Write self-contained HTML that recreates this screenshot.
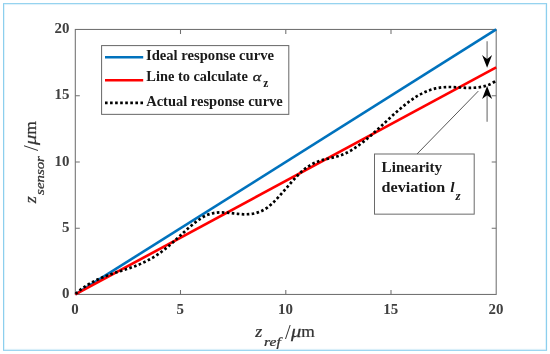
<!DOCTYPE html>
<html><head><meta charset="utf-8"><title>Linearity deviation</title>
<style>
html,body{margin:0;padding:0;background:#fff;}
svg{display:block;font-family:"Liberation Serif","DejaVu Serif",serif;}
.tk text{font-size:14.9px;font-weight:bold;fill:#404040;}
.lg text,.an text{font-weight:bold;fill:#1a1a1a;}
</style></head><body>
<svg width="550" height="354" viewBox="0 0 550 354">
<rect x="0" y="0" width="550" height="354" fill="#fff"/>
<rect x="3.65" y="3.75" width="542.8" height="346.45" fill="none" stroke="#8ccfee" stroke-width="1.3"/>
<rect x="4.6" y="4.7" width="540.9" height="344.5" fill="none" stroke="#e4f3fb" stroke-width="0.8"/>
<!-- axes -->
<g fill="none" stroke="#707070" stroke-width="1.05">
<rect x="75.3" y="29.45" width="420.9" height="265.0"/>
<path d="M180.5 294.45 v-4.5 M180.5 29.45 v4.5"/><path d="M285.8 294.45 v-4.5 M285.8 29.45 v4.5"/><path d="M391.0 294.45 v-4.5 M391.0 29.45 v4.5"/><path d="M75.3 228.2 h4.5 M496.2 228.2 h-4.5"/><path d="M75.3 161.9 h4.5 M496.2 161.9 h-4.5"/><path d="M75.3 95.7 h4.5 M496.2 95.7 h-4.5"/>
</g>
<!-- data -->
<path d="M75.3 294.45 L496.2 29.45" stroke="#0072bd" stroke-width="2.6" fill="none"/>
<path d="M75.3 294.45 L496.2 67.4" stroke="#ff0000" stroke-width="2.65" fill="none"/>
<path d="M75.6 293.7C76.6 292.9 79.6 290.4 81.6 288.9C83.6 287.4 85.6 286.1 87.6 284.9C89.6 283.6 91.6 282.5 93.6 281.5C95.6 280.4 97.6 279.5 99.6 278.6C101.6 277.7 103.6 276.9 105.6 276.2C107.6 275.4 109.6 274.7 111.6 274.0C113.6 273.3 115.6 272.7 117.6 272.0C119.6 271.3 121.6 270.7 123.6 270.1C125.6 269.4 127.6 268.8 129.6 268.1C131.6 267.4 133.6 266.7 135.6 265.9C137.6 265.1 139.6 264.3 141.6 263.4C143.6 262.5 145.6 261.6 147.6 260.5C149.6 259.5 151.6 258.4 153.6 257.2C155.6 256.0 157.6 254.7 159.6 253.2C161.6 251.8 163.6 250.3 165.6 248.6C167.6 247.0 169.6 245.3 171.6 243.5C173.6 241.8 175.6 239.9 177.6 238.1C179.6 236.2 181.6 234.4 183.6 232.5C185.6 230.7 187.6 228.8 189.6 227.1C191.6 225.4 193.6 223.7 195.6 222.1C197.6 220.6 199.6 219.2 201.6 217.9C203.6 216.7 205.6 215.6 207.6 214.8C209.6 214.0 211.6 213.5 213.6 213.1C215.6 212.7 217.6 212.5 219.6 212.4C221.6 212.4 223.6 212.5 225.6 212.6C227.6 212.7 229.6 213.0 231.6 213.2C233.6 213.4 235.6 213.7 237.6 213.8C239.6 214.0 241.6 214.2 243.6 214.3C245.6 214.3 247.6 214.3 249.6 214.1C251.6 214.0 253.6 213.7 255.6 213.2C257.6 212.6 259.6 212.0 261.6 211.0C263.6 210.0 265.6 208.8 267.6 207.4C269.6 205.9 271.6 204.1 273.6 202.2C275.6 200.3 277.6 198.1 279.6 195.9C281.6 193.7 283.6 191.3 285.6 189.0C287.6 186.7 289.6 184.3 291.6 182.0C293.6 179.8 295.6 177.5 297.6 175.5C299.6 173.5 301.6 171.6 303.6 169.9C305.6 168.3 307.6 166.8 309.6 165.6C311.6 164.3 313.6 163.3 315.6 162.5C317.6 161.6 319.6 160.9 321.6 160.3C323.6 159.7 325.6 159.3 327.6 158.8C329.6 158.3 331.6 157.9 333.6 157.4C335.6 156.9 337.6 156.4 339.6 155.7C341.6 155.1 343.6 154.3 345.6 153.3C347.6 152.4 349.6 151.3 351.6 150.1C353.6 148.9 355.6 147.6 357.6 146.1C359.6 144.7 361.6 143.2 363.6 141.6C365.6 140.0 367.6 138.3 369.6 136.6C371.6 134.9 373.6 133.1 375.6 131.3C377.6 129.4 379.6 127.6 381.6 125.7C383.6 123.9 385.6 122.0 387.6 120.1C389.6 118.3 391.6 116.4 393.6 114.6C395.6 112.8 397.6 111.0 399.6 109.3C401.6 107.6 403.6 105.9 405.6 104.3C407.6 102.7 409.6 101.2 411.6 99.8C413.6 98.4 415.6 97.1 417.6 95.9C419.6 94.7 421.6 93.7 423.6 92.7C425.6 91.8 427.6 90.9 429.6 90.2C431.6 89.5 433.6 88.9 435.6 88.4C437.6 88.0 439.6 87.6 441.6 87.4C443.6 87.2 445.6 87.1 447.6 87.0C449.6 87.0 451.6 87.0 453.6 87.1C455.6 87.2 457.6 87.3 459.6 87.4C461.6 87.5 463.6 87.7 465.6 87.8C467.6 87.8 469.6 87.9 471.6 87.8C473.6 87.8 475.6 87.7 477.6 87.5C479.6 87.2 481.6 86.9 483.6 86.4C485.6 85.9 487.6 85.2 489.6 84.4C491.6 83.5 494.5 81.8 495.6 81.2C496.7 80.6 496.1 80.8 496.2 80.8" stroke="#000" stroke-width="2.7" stroke-dasharray="2.6 2.4" fill="none"/>
<g class="tk"><text x="75.0" y="314.1" text-anchor="middle">0</text><text x="180.2" y="314.1" text-anchor="middle">5</text><text x="285.4" y="314.1" text-anchor="middle">10</text><text x="390.7" y="314.1" text-anchor="middle">15</text><text x="495.9" y="314.1" text-anchor="middle">20</text><text x="69.4" y="298.1" text-anchor="end">0</text><text x="69.4" y="231.9" text-anchor="end">5</text><text x="69.4" y="165.6" text-anchor="end">10</text><text x="69.4" y="99.4" text-anchor="end">15</text><text x="69.4" y="33.1" text-anchor="end">20</text></g>
<!-- legend -->
<g class="lg">
<rect x="101.6" y="45.6" width="187.2" height="68.75" fill="#fff" stroke="#666" stroke-width="1"/>
<path d="M105 57.2 H143.2" stroke="#0072bd" stroke-width="2.5"/>
<path d="M105 80.2 H143.2" stroke="#ff0000" stroke-width="2.5"/>
<path d="M105 102.9 H143.2" stroke="#000" stroke-width="2.8" stroke-dasharray="2.6 2.46"/>
<text x="146.0" y="60.2" font-size="14" textLength="128" lengthAdjust="spacingAndGlyphs">Ideal response curve</text>
<text x="146.3" y="80.8" font-size="14" textLength="101.5" lengthAdjust="spacingAndGlyphs">Line to calculate</text>
<text transform="translate(252.7 80.7) scale(1.36 1)" font-size="12" font-style="italic" style="font-weight:normal" stroke="#1a1a1a" stroke-width="0.3">α</text>
<text x="263.3" y="86.5" font-size="11.5">z</text>
<text x="146.2" y="106.1" font-size="14" textLength="136.6" lengthAdjust="spacingAndGlyphs">Actual response curve</text>
</g>
<!-- annotation -->
<g class="an">
<path d="M417.0 154 L478.3 91.1" stroke="#444" stroke-width="0.9" fill="none"/>
<rect x="374.5" y="154" width="99.7" height="60.15" fill="#fff" stroke="#6a6a6a" stroke-width="1"/>
<text x="381.6" y="171.5" font-size="15" textLength="60.6" lengthAdjust="spacingAndGlyphs">Linearity</text>
<text x="381.6" y="192.1" font-size="15" textLength="63.7" lengthAdjust="spacingAndGlyphs">deviation</text>
<text x="450.2" y="192.2" font-size="15.5" font-style="italic">l</text>
<text transform="translate(455.6 199.8) scale(1.15 1)" font-size="11.5" font-style="italic">z</text>
<path d="M487.1 41.2 V60" stroke="#7a7a7a" stroke-width="1.2"/>
<path d="M487.1 67.8 L482.1 55.1 Q484.8 57.6 487.1 59 Q489.4 57.6 492.1 55.1 Z" fill="#000"/>
<path d="M487.1 121.8 V94" stroke="#7a7a7a" stroke-width="1.2"/>
<path d="M487.1 86.1 L482.1 99 Q484.8 96.8 487.1 95.3 Q489.4 96.8 492.1 99 Z" fill="#000"/>
</g>
<!-- axis labels -->
<g fill="#333" stroke="#333" stroke-width="0.25">
<text transform="translate(255.3 337) scale(1.12 1)" font-size="16" font-style="italic">z</text>
<text transform="translate(264 345.6) scale(1.24 1)" font-size="12.6" font-style="italic">ref</text>
<text x="284.9" y="338.9" font-size="20.4" stroke="none">/</text>
<text transform="translate(291 337) scale(1.3 1)" font-size="15.8" font-style="italic">μ</text>
<text transform="translate(301.2 337) scale(1.1 1)" font-size="15.8">m</text>
<g transform="translate(36 203.3) rotate(-90)">
<text transform="translate(0 0) scale(1.12 1)" font-size="16" font-style="italic">z</text>
<text transform="translate(8.4 8.2) scale(1.18 1)" font-size="12.6" font-style="italic">sensor</text>
<text x="52.3" y="1.9" font-size="20.4" stroke="none">/</text>
<text transform="translate(58.3 0) scale(1.3 1)" font-size="15.8" font-style="italic">μ</text>
<text transform="translate(68.6 0) scale(1.1 1)" font-size="15.8">m</text>
</g>
</g>
</svg>
</body></html>
